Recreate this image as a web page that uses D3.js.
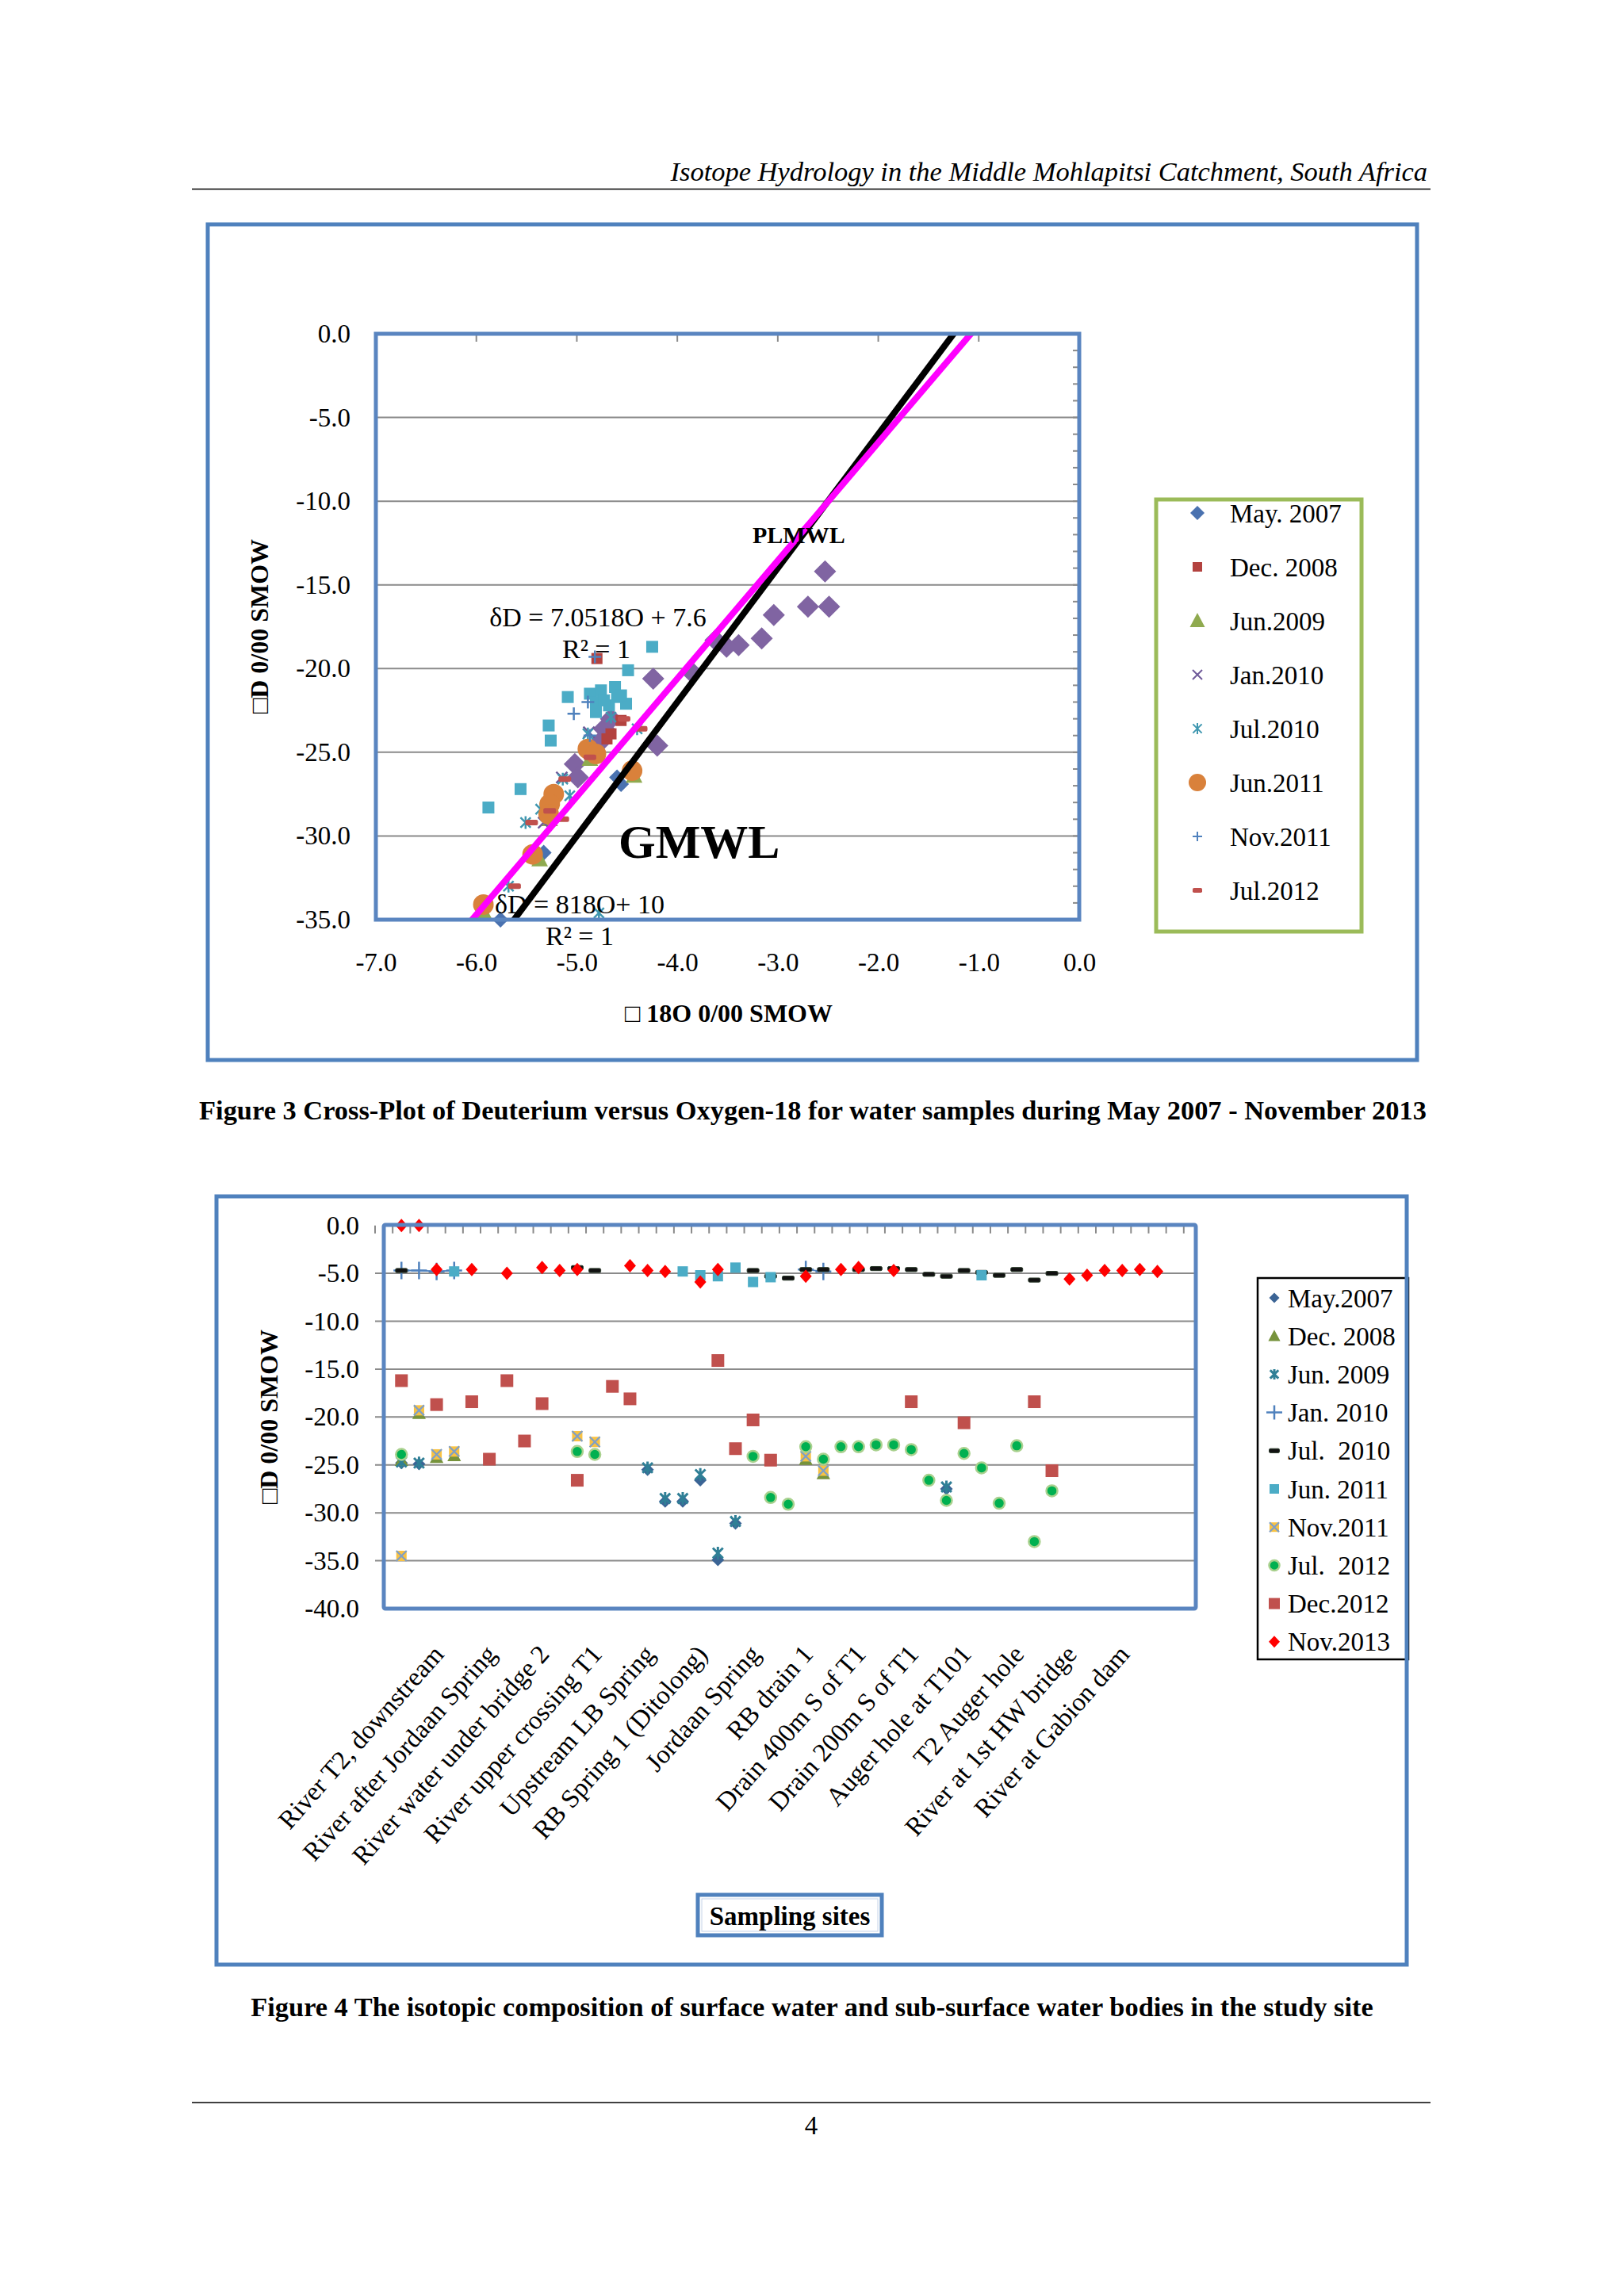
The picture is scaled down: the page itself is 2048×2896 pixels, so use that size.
<!DOCTYPE html>
<html><head><meta charset="utf-8">
<script src="https://cdn.jsdelivr.net/npm/d3@7"></script>
<style>
body{margin:0;background:#fff}
svg{display:block}
text{font-family:"Liberation Serif","Times New Roman",serif;fill:#000}
</style></head>
<body><svg id="page" width="2048" height="2896"></svg>
<script>
// ================= DATA =================
const headerText = "Isotope Hydrology in the Middle Mohlapitsi Catchment, South Africa";
const caption3 = "Figure 3 Cross-Plot of Deuterium versus Oxygen-18 for water samples during May 2007 - November 2013";
const caption4 = "Figure 4 The isotopic composition of surface water and sub-surface water bodies in the study site";
const pageNumber = "4";

// ---- Figure 3 (delta18O, deltaD) ----
const fig3XTicks = [-7, -6, -5, -4, -3, -2, -1, 0];
const fig3YTicks = [0, -5, -10, -15, -20, -25, -30, -35];
const fig3XTitle = "\u25A1 18O 0/00 SMOW";
const fig3YTitle = "\u25A1D 0/00 SMOW";
const fig3LegendNames = ["May. 2007", "Dec. 2008", "Jun.2009", "Jan.2010", "Jul.2010", "Jun.2011", "Nov.2011", "Jul.2012"];

const f3Purple = [[-2.53,-14.2],[-2.70,-16.3],[-2.49,-16.3],[-3.04,-16.8],[-3.16,-18.2],[-3.39,-18.6],[-3.51,-18.7],
  [-3.62,-18.3],[-3.86,-20.2],[-4.24,-20.6],[-4.20,-24.6],[-4.73,-23.6],[-4.77,-24.4],[-4.66,-23.0],[-5.02,-25.7],[-4.99,-26.5]];
const f3Cyan = [[-4.25,-18.7],[-4.49,-20.1],[-5.09,-21.7],[-4.87,-21.5],[-4.76,-21.3],[-4.62,-21.1],[-4.51,-22.1],
  [-4.81,-22.0],[-4.81,-22.6],[-4.68,-22.2],[-4.60,-21.7],[-4.73,-21.9],[-4.56,-21.6],[-5.28,-23.4],[-5.26,-24.3],[-5.56,-27.2],[-5.88,-28.3]];
const f3May2007 = [[-5.76,-35.0],[-5.33,-31.0],[-4.60,-26.5],[-4.56,-26.9]];
const f3Dec2008 = [[-4.80,-19.4],[-4.66,-23.9],[-4.56,-23.1],[-5.27,-28.5],[-4.70,-24.2]];
const f3Jun2009 = [[-4.43,-26.4],[-5.37,-31.4],[-4.87,-25.4],[-5.27,-29.0],[-5.93,-34.5]];
const f3Jan2010 = [[-4.88,-23.8],[-5.33,-29.2],[-5.15,-26.5]];
const f3Jul2010 = [[-4.89,-23.9],[-5.14,-26.6],[-5.51,-29.2],[-5.36,-28.4],[-5.68,-33.0],[-4.78,-34.6],[-5.07,-27.6],[-4.66,-22.9],[-4.40,-23.6]];
const f3Jun2011 = [[-4.89,-24.8],[-4.81,-25.1],[-4.45,-26.1],[-5.23,-27.5],[-5.27,-28.1],[-5.28,-28.7],[-5.44,-31.1],[-5.93,-34.1]];
const f3Nov2011 = [[-4.82,-19.3],[-4.89,-22.0],[-5.03,-22.7],[-4.87,-24.0]];
const f3Jul2012 = [[-5.45,-29.2],[-5.62,-33.0],[-5.12,-26.6],[-4.87,-25.3],[-4.36,-23.6],[-4.53,-23.0],[-5.14,-29.0],[-5.27,-28.5]];

// meteoric water lines (from the equations printed on the chart)
const mwlNames = ["GMWL", "PLMWL"];
const mwlSlopes = [8, 7.05];
const mwlIntercepts = [10, 7.6];

// ---- Figure 4 (deltaD per sampling site) ----
const fig4Sites = ["","","","River T2, downstream","","","River after Jordaan Spring","","","River water under bridge 2","","",
  "River upper crossing T1","","","Upstream LB Spring","","","RB Spring 1 (Ditolong)","","","Jordaan Spring","","",
  "RB drain 1","","","Drain 400m S of T1","","","Drain 200m S of T1","","","Auger hole at T101","","",
  "T2 Auger hole","","","River at 1st HW bridge","","","River at Gabion dam","","",""];
const fig4YTicks = [0, -5, -10, -15, -20, -25, -30, -35, -40];
const fig4YTitle = "\u25A1D 0/00 SMOW";
const fig4XTitle = "Sampling sites";
const fig4LegendNames = ["May.2007", "Dec. 2008", "Jun. 2009", "Jan. 2010", "Jul.  2010", "Jun. 2011", "Nov.2011", "Jul.  2012", "Dec.2012", "Nov.2013"];
// [site index, deltaD]
const f4May2007 = [[1,-24.8],[2,-24.9],[15,-25.5],[16,-28.8],[17,-28.8],[18,-26.6],[19,-34.9],[20,-31.1],[32,-27.5]];
const f4Dec2008 = [[1,-24.5],[2,-19.6],[3,-24.2],[4,-24.0],[24,-24.4],[25,-25.9]];
const f4Jun2009 = [[1,-24.7],[2,-24.8],[15,-25.3],[16,-28.5],[17,-28.5],[18,-26.0],[19,-34.2],[20,-30.9],[32,-27.3]];
const f4Jan2010 = [[1,-4.7],[2,-4.7],[3,-4.8],[4,-4.7],[24,-4.6],[25,-4.8]];
const f4Jul2010 = [[1,-4.7],[11,-4.4],[12,-4.7],[21,-4.7],[22,-5.3],[23,-5.5],[24,-4.6],[25,-4.6],[27,-4.6],[28,-4.5],[29,-4.5],
  [30,-4.6],[31,-5.1],[32,-5.3],[33,-4.7],[34,-4.9],[35,-5.2],[36,-4.6],[37,-5.7],[38,-5.0]];
const f4Jun2011 = [[4,-4.8],[17,-4.8],[18,-5.2],[19,-5.3],[20,-4.4],[21,-5.9],[22,-5.4],[34,-5.2]];
const f4Nov2011 = [[1,-34.5],[2,-19.3],[3,-23.9],[4,-23.6],[11,-22.0],[12,-22.6],[24,-24.1],[25,-25.6]];
const f4Jul2012 = [[1,-23.9],[11,-23.6],[12,-23.9],[21,-24.1],[22,-28.4],[23,-29.1],[24,-23.1],[25,-24.4],[26,-23.1],[27,-23.1],
  [28,-22.9],[29,-22.9],[30,-23.4],[31,-26.6],[32,-28.7],[33,-23.8],[34,-25.3],[35,-29.0],[36,-23.0],[37,-33.0],[38,-27.7]];
const f4Dec2012 = [[1,-16.2],[3,-18.7],[5,-18.4],[6,-24.4],[7,-16.2],[8,-22.5],[9,-18.6],[11,-26.6],[13,-16.8],[14,-18.1],
  [19,-14.1],[20,-23.3],[21,-20.3],[22,-24.5],[30,-18.4],[33,-20.6],[37,-18.4],[38,-25.6]];
const f4Nov2013 = [[1,0.0],[2,0.0],[3,-4.6],[5,-4.6],[7,-5.0],[9,-4.4],[10,-4.7],[11,-4.6],[14,-4.2],[15,-4.7],[16,-4.8],
  [18,-5.9],[19,-4.6],[24,-5.3],[26,-4.6],[27,-4.4],[29,-4.7],[39,-5.6],[40,-5.2],[41,-4.7],[42,-4.7],[43,-4.6],[44,-4.8]];

// ================= DRAWING =================
const svg = d3.select("#page");
svg.append("rect").attr("width", 2048).attr("height", 2896).attr("fill", "#fff");
const BLUE = "#4f81bd", GRID = "#8a8a8a";
const fmt = d => d.toFixed(1);

function fitText(sel, target) {
  const len = sel.node().getComputedTextLength();
  const fs = parseFloat(sel.attr("font-size"));
  sel.attr("font-size", fs * target / len);
}

function marker(g, type, cx, cy, s, o) {
  o = o || {};
  const fill = o.fill || "none", stroke = o.stroke || "none", sw = o.sw || 0;
  if (type === "diamond") {
    const h = o.h || s;
    g.append("path").attr("d", `M${cx},${cy-h}L${cx+s},${cy}L${cx},${cy+h}L${cx-s},${cy}Z`).attr("fill", fill).attr("stroke", stroke).attr("stroke-width", sw);
  } else if (type === "square") {
    g.append("rect").attr("x", cx-s).attr("y", cy-s).attr("width", 2*s).attr("height", 2*s).attr("fill", fill).attr("stroke", stroke).attr("stroke-width", sw);
  } else if (type === "triangle") {
    g.append("path").attr("d", `M${cx},${cy-s}L${cx+s*0.95},${cy+s*0.8}L${cx-s*0.95},${cy+s*0.8}Z`).attr("fill", fill);
  } else if (type === "circle") {
    g.append("circle").attr("cx", cx).attr("cy", cy).attr("r", s).attr("fill", fill).attr("stroke", stroke).attr("stroke-width", sw);
  } else if (type === "x") {
    g.append("path").attr("d", `M${cx-s},${cy-s}L${cx+s},${cy+s}M${cx+s},${cy-s}L${cx-s},${cy+s}`).attr("stroke", stroke).attr("stroke-width", sw);
  } else if (type === "plus") {
    const w = o.w || s;
    g.append("path").attr("d", `M${cx-w},${cy}L${cx+w},${cy}M${cx},${cy-s}L${cx},${cy+s}`).attr("stroke", stroke).attr("stroke-width", sw);
  } else if (type === "asterisk") {
    g.append("path").attr("d", `M${cx-s*0.8},${cy-s*0.8}L${cx+s*0.8},${cy+s*0.8}M${cx+s*0.8},${cy-s*0.8}L${cx-s*0.8},${cy+s*0.8}M${cx},${cy-s}L${cx},${cy+s}`).attr("stroke", stroke).attr("stroke-width", sw);
  } else if (type === "dash") {
    const h = o.h || s * 0.4;
    g.append("rect").attr("x", cx-s).attr("y", cy-h).attr("width", 2*s).attr("height", 2*h).attr("rx", h*0.6).attr("fill", fill).attr("stroke", stroke).attr("stroke-width", sw);
  } else if (type === "xsquare") {
    g.append("rect").attr("x", cx-s).attr("y", cy-s).attr("width", 2*s).attr("height", 2*s).attr("fill", fill);
    g.append("path").attr("d", `M${cx-s},${cy-s}L${cx+s},${cy+s}M${cx+s},${cy-s}L${cx-s},${cy+s}`).attr("stroke", stroke).attr("stroke-width", sw);
  }
}

// ---- page header ----
const hdr = svg.append("text").attr("x", 1800).attr("y", 228).attr("text-anchor", "end")
  .attr("font-style", "italic").attr("font-size", 32).text(headerText);
fitText(hdr, 955);
svg.append("line").attr("x1", 242).attr("x2", 1804).attr("y1", 238.5).attr("y2", 238.5).attr("stroke", "#000").attr("stroke-width", 1.6);

// ================= FIGURE 3 =================
svg.append("rect").attr("x", 262).attr("y", 283).attr("width", 1525).attr("height", 1054)
  .attr("fill", "none").attr("stroke", BLUE).attr("stroke-width", 5);

const x1 = d3.scaleLinear().domain([-7, 0]).range([474, 1361]);
const y1 = d3.scaleLinear().domain([0, -35]).range([421, 1160]);
const g1 = svg.append("g");

// gridlines
g1.selectAll(".g1grid").data(fig3YTicks.filter(d => d !== 0 && d !== -35)).join("line")
  .attr("x1", x1(-7)).attr("x2", x1(0)).attr("y1", d => y1(d)).attr("y2", d => y1(d))
  .attr("stroke", GRID).attr("stroke-width", 2);
// minor ticks on right (y axis crosses at x = 0)
g1.selectAll(".g1minor").data(d3.range(-1, -35, -1)).join("line")
  .attr("x1", x1(0) - 8).attr("x2", x1(0)).attr("y1", d => y1(d)).attr("y2", d => y1(d))
  .attr("stroke", GRID).attr("stroke-width", 2);
// major ticks on top (x axis crosses at y = 0)
g1.selectAll(".g1xt").data(fig3XTicks.slice(1, -1)).join("line")
  .attr("x1", d => x1(d)).attr("x2", d => x1(d)).attr("y1", y1(0)).attr("y2", y1(0) + 10)
  .attr("stroke", GRID).attr("stroke-width", 2);

// tick labels via d3 axes
const ax1y = g1.append("g").attr("transform", `translate(${x1(-7)},0)`)
  .call(d3.axisLeft(y1).tickValues(fig3YTicks).tickFormat(fmt).tickSize(0).tickPadding(32));
ax1y.select(".domain").remove();
ax1y.selectAll("text").attr("font-size", 33).attr("font-family", "Liberation Serif").attr("fill", "#000");
const ax1x = g1.append("g").attr("transform", `translate(0,1213)`)
  .call(d3.axisBottom(x1).tickValues(fig3XTicks).tickFormat(fmt).tickSize(0).tickPadding(0));
ax1x.select(".domain").remove();
ax1x.selectAll("text").attr("font-size", 33).attr("font-family", "Liberation Serif").attr("fill", "#000").attr("y", 0).attr("dy", "0.35em");

// axis titles
g1.append("text").attr("transform", "translate(338,790) rotate(-90)").attr("text-anchor", "middle")
  .attr("font-weight", "bold").attr("font-size", 32).text(fig3YTitle);
g1.append("text").attr("x", 919).attr("y", 1289).attr("text-anchor", "middle")
  .attr("font-weight", "bold").attr("font-size", 32).text(fig3XTitle);

// points
const pts = g1.append("g");
const P = (arr, type, s, o) => arr.forEach(d => marker(pts, type, x1(d[0]), y1(d[1]), s, o));
P(f3Purple, "diamond", 14, {fill: "#8064a2"});
P(f3Cyan, "square", 7.5, {fill: "#4bacc6"});
P(f3May2007, "diamond", 10, {fill: "#4a72b0"});
P(f3Dec2008, "square", 7, {fill: "#b3423f"});
P(f3Jun2009, "triangle", 11, {fill: "#8faa4f"});
P(f3Jan2010, "x", 7, {stroke: "#6f5a9a", sw: 2.5});
P(f3Jul2010, "asterisk", 8, {stroke: "#3f97b0", sw: 2.5});
P(f3Jun2011, "circle", 13, {fill: "#d9813b"});
P(f3Nov2011, "plus", 8, {stroke: "#4f81bd", sw: 2.5});
P(f3Jul2012, "dash", 8, {fill: "#c0504d", h: 3.5});

// meteoric water lines
svg.append("clipPath").attr("id", "clip1").append("rect")
  .attr("x", x1(-7)).attr("y", y1(0)).attr("width", x1(0) - x1(-7)).attr("height", y1(-35) - y1(0));
const lineG = g1.append("g").attr("clip-path", "url(#clip1)");
const mwlColors = ["#000000", "#ff00ff"];
const line1 = d3.line().x(d => x1(d[0])).y(d => y1(d[1]));
mwlNames.forEach((n, i) => {
  const ends = [-36, 1].map(D => [(D - mwlIntercepts[i]) / mwlSlopes[i], D]);
  lineG.append("path").attr("d", line1(ends)).attr("stroke", mwlColors[i]).attr("stroke-width", 8).attr("fill", "none");
});

// plot border
g1.append("rect").attr("x", x1(-7)).attr("y", y1(0)).attr("width", x1(0) - x1(-7)).attr("height", y1(-35) - y1(0))
  .attr("fill", "none").attr("stroke", "#5a85c0").attr("stroke-width", 5);

// annotations
g1.append("text").attr("x", 754).attr("y", 790).attr("text-anchor", "middle").attr("font-size", 34).text("\u03B4D = 7.0518O + 7.6");
g1.append("text").attr("x", 752).attr("y", 830).attr("text-anchor", "middle").attr("font-size", 34).text("R\u00B2 = 1");
g1.append("text").attr("x", 731).attr("y", 1152).attr("text-anchor", "middle").attr("font-size", 34).text("\u03B4D = 818O+ 10");
g1.append("text").attr("x", 731).attr("y", 1192).attr("text-anchor", "middle").attr("font-size", 34).text("R\u00B2 = 1");
g1.append("text").attr("x", 780).attr("y", 1082).attr("font-weight", "bold").attr("font-size", 60).text(mwlNames[0]);
g1.append("text").attr("x", 949).attr("y", 685).attr("font-weight", "bold").attr("font-size", 30).text(mwlNames[1]);

// legend
const leg1 = svg.append("g");
leg1.append("rect").attr("x", 1458).attr("y", 630).attr("width", 259).attr("height", 545)
  .attr("fill", "#fff").attr("stroke", "#9bbb59").attr("stroke-width", 5);
const leg1Types = [["diamond", 9, {fill: "#4a72b0"}], ["square", 6, {fill: "#b3423f"}], ["triangle", 10, {fill: "#8faa4f"}],
  ["x", 6, {stroke: "#6f5a9a", sw: 2}], ["asterisk", 7, {stroke: "#3f97b0", sw: 2}], ["circle", 11, {fill: "#d9813b"}],
  ["plus", 6, {stroke: "#4f81bd", sw: 2}], ["dash", 6, {fill: "#c0504d", h: 3}]];
fig3LegendNames.forEach((n, i) => {
  const cy = 647 + i * 68;
  marker(leg1, leg1Types[i][0], 1510, cy, leg1Types[i][1], leg1Types[i][2]);
  leg1.append("text").attr("x", 1551).attr("y", cy).attr("dy", "0.35em").attr("font-size", 33).text(n);
});

const c3 = svg.append("text").attr("x", 1025).attr("y", 1412).attr("text-anchor", "middle")
  .attr("font-weight", "bold").attr("font-size", 32).text(caption3);
fitText(c3, 1548);

// ================= FIGURE 4 =================
const x2 = d3.scaleBand().domain(d3.range(fig4Sites.length)).range([473, 473 + fig4Sites.length * 22.17]);
const y2 = d3.scaleLinear().domain([0, -40]).range([1545.7, 2029]);
const bw = x2.bandwidth();
const cxOf = i => x2(i) + bw / 2;
const g2 = svg.append("g");

g2.selectAll(".g2grid").data(fig4YTicks.slice(1, -1)).join("line")
  .attr("x1", 473).attr("x2", 1506).attr("y1", d => y2(d)).attr("y2", d => y2(d))
  .attr("stroke", GRID).attr("stroke-width", 2);
// category ticks at top (category axis crosses at 0)
g2.selectAll(".g2ct").data(d3.range(fig4Sites.length + 1)).join("line")
  .attr("x1", i => i < fig4Sites.length ? x2(i) : x2(i - 1) + bw).attr("x2", i => i < fig4Sites.length ? x2(i) : x2(i - 1) + bw)
  .attr("y1", y2(0)).attr("y2", y2(0) + 10).attr("stroke", GRID).attr("stroke-width", 2);

const ax2y = g2.append("g").attr("transform", "translate(473,0)")
  .call(d3.axisLeft(y2).tickValues(fig4YTicks).tickFormat(fmt).tickSize(0).tickPadding(20));
ax2y.select(".domain").remove();
ax2y.selectAll("text").attr("font-size", 33).attr("font-family", "Liberation Serif").attr("fill", "#000");

g2.append("text").attr("transform", "translate(350,1787) rotate(-90)").attr("text-anchor", "middle")
  .attr("font-weight", "bold").attr("font-size", 32).text(fig4YTitle);

// category labels
fig4Sites.forEach((s, i) => {
  if (!s) return;
  g2.append("text").attr("transform", `translate(${cxOf(i) + 2},2080) rotate(-48.5)`)
    .attr("text-anchor", "end").attr("dy", "0.35em").attr("font-size", 33).text(s);
});

// sampling sites box
g2.append("rect").attr("x", 880).attr("y", 2390).attr("width", 232).attr("height", 51)
  .attr("fill", "#fff").attr("stroke", BLUE).attr("stroke-width", 5);
g2.append("rect").attr("x", 885).attr("y", 2395).attr("width", 222).attr("height", 41)
  .attr("fill", "none").attr("stroke", "#c5d3e8").attr("stroke-width", 1);
g2.append("text").attr("x", 996).attr("y", 2416).attr("dy", "0.35em").attr("text-anchor", "middle")
  .attr("font-weight", "bold").attr("font-size", 33).text(fig4XTitle);

// series
const pts2 = g2.append("g");
const Q = (arr, type, s, o) => arr.forEach(d => marker(pts2, type, cxOf(d[0]), y2(d[1]), s, o));
const f4Styles = [
  ["diamond", 8, {fill: "#3b6495"}],
  ["triangle", 9, {fill: "#77933c"}],
  ["asterisk", 8, {stroke: "#2f7f96", sw: 3}],
  ["plus", 11, {stroke: "#4f81bd", sw: 2.5, w: 10}],
  ["dash", 7.5, {fill: "#111", stroke: "#2a3a2a", sw: 1, h: 2.6}],
  ["square", 6.5, {fill: "#4bacc6"}],
  ["xsquare", 6.5, {fill: "#f8c243", stroke: "#7f9fc7", sw: 2.2}],
  ["circle", 7, {fill: "#00b050", stroke: "#a9d18e", sw: 2.5}],
  ["square", 8, {fill: "#c0504d"}],
  ["diamond", 7.5, {fill: "#ff0000", h: 8.5}]
];
const f4Series = [f4May2007, f4Dec2008, f4Jun2009, f4Jan2010, f4Jul2010, f4Jun2011, f4Nov2011, f4Jul2012, f4Dec2012, f4Nov2013];

// Jan. 2010 is drawn with a connecting line
const janFull = fig4Sites.map((_, i) => { const p = f4Jan2010.find(d => d[0] === i); return p ? p : null; });
pts2.append("path").attr("d", d3.line().defined(d => d !== null).x(d => cxOf(d[0])).y(d => y2(d[1]))(janFull))
  .attr("fill", "none").attr("stroke", "#4f81bd").attr("stroke-width", 1.8);

f4Series.forEach((arr, k) => Q(arr, f4Styles[k][0], f4Styles[k][1], f4Styles[k][2]));

// plot frame
g2.append("rect").attr("x", 484).attr("y", 1545).attr("width", 1024).attr("height", 484).attr("rx", 2)
  .attr("fill", "none").attr("stroke", "#5a85c0").attr("stroke-width", 5);

// legend
const leg2 = svg.append("g");
leg2.append("rect").attr("x", 1586).attr("y", 1612).attr("width", 190).attr("height", 481)
  .attr("fill", "#fff").attr("stroke", "#000").attr("stroke-width", 2.5);
const leg2Sizes = [6.5, 8, 6.5, 9, 6.5, 6, 6, 6.5, 7, 7];
fig4LegendNames.forEach((n, i) => {
  const cy = 1637 + i * 48.2;
  const st = f4Styles[i];
  const o = Object.assign({}, st[2]);
  if (i === 3) o.w = 10;
  if (i === 9) o.h = 7.5;
  marker(leg2, st[0], 1607, cy, leg2Sizes[i], o);
  leg2.append("text").attr("x", 1624).attr("y", cy).attr("dy", "0.35em").attr("font-size", 33)
    .style("white-space", "pre").text(n);
});

// figure 4 frame
svg.append("rect").attr("x", 273).attr("y", 1509).attr("width", 1501).attr("height", 969)
  .attr("fill", "none").attr("stroke", BLUE).attr("stroke-width", 5);

const c4 = svg.append("text").attr("x", 1024).attr("y", 2543).attr("text-anchor", "middle")
  .attr("font-weight", "bold").attr("font-size", 32).text(caption4);
fitText(c4, 1416);

// footer
svg.append("line").attr("x1", 242).attr("x2", 1804).attr("y1", 2652).attr("y2", 2652).attr("stroke", "#000").attr("stroke-width", 1.6);
svg.append("text").attr("x", 1023).attr("y", 2692).attr("text-anchor", "middle").attr("font-size", 33).text(pageNumber);
</script>
</body></html>
